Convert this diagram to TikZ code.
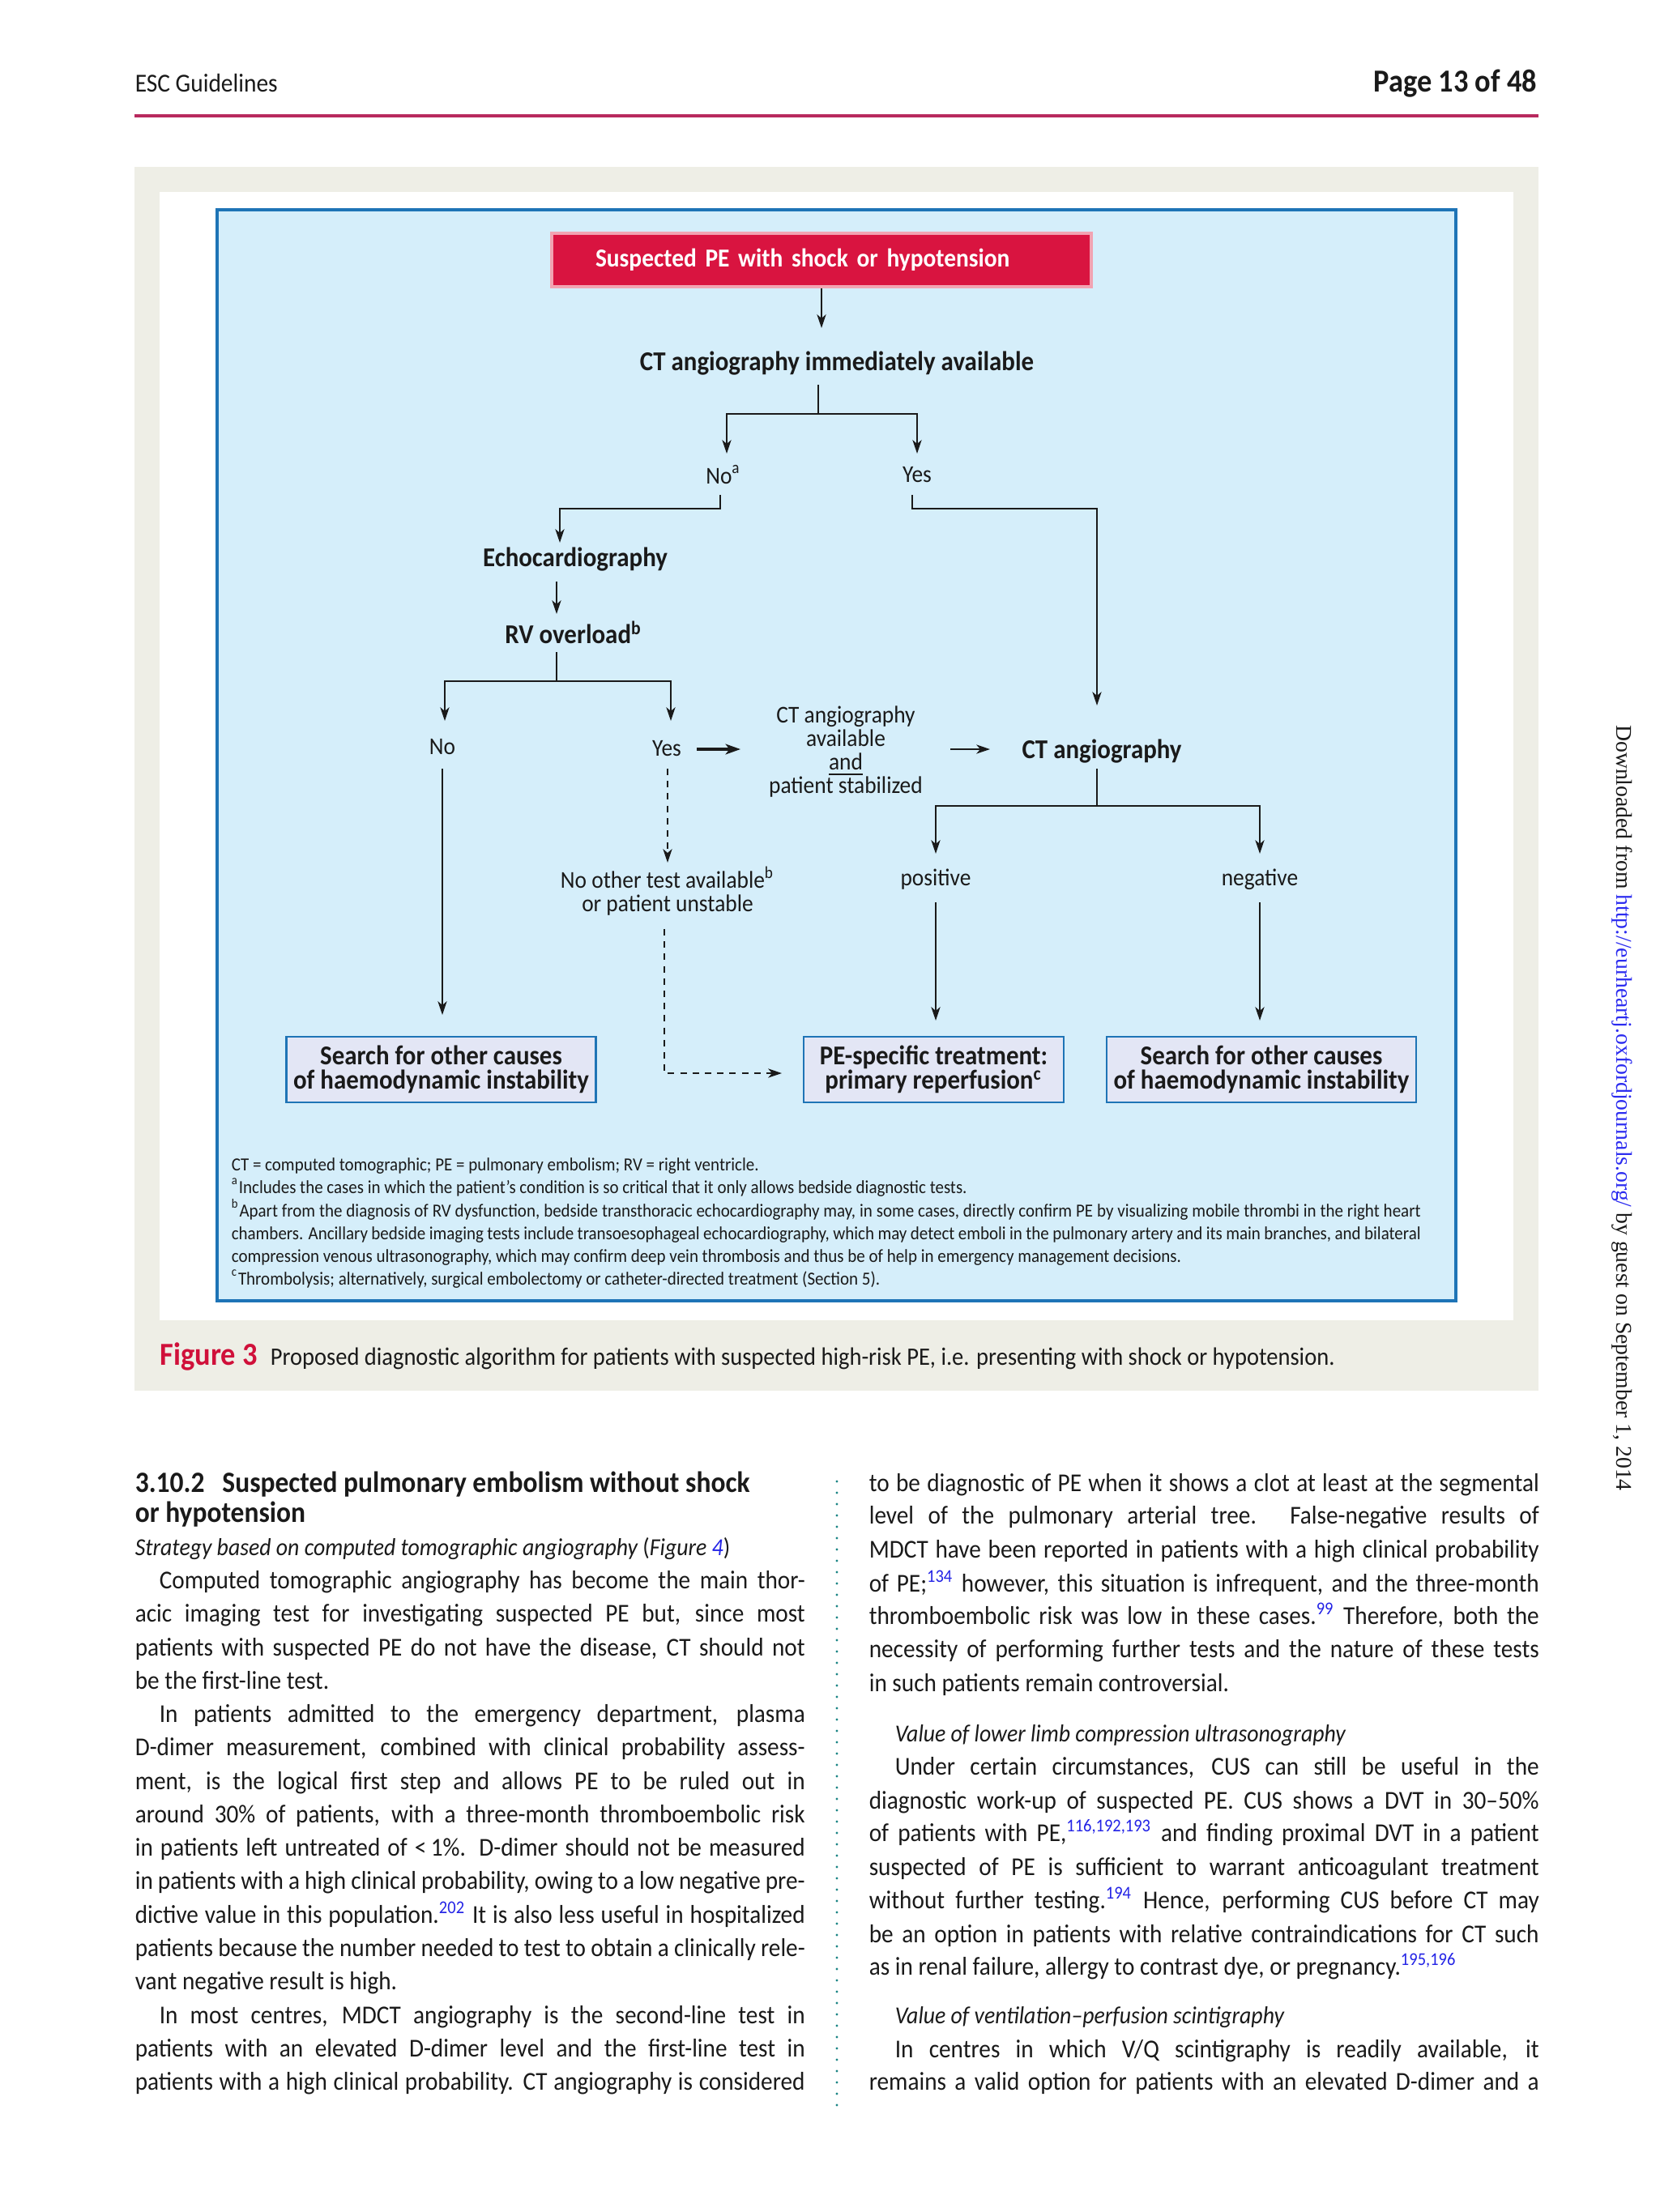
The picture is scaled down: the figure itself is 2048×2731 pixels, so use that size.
\documentclass[tikz,border=0pt]{standalone}
\usepackage{fontspec}
\setmainfont{Carlito}[FakeStretch=0.92]
\newfontfamily\serifrm{Liberation Serif}
\usepackage{graphicx}
\usetikzlibrary{arrows.meta}
\definecolor{panelgray}{HTML}{EEEEE6}
\definecolor{boxblue}{HTML}{1E74B6}
\definecolor{lightblue}{HTML}{D5EEFA}
\definecolor{redfill}{HTML}{D91440}
\definecolor{redborder}{HTML}{F2A3B2}
\definecolor{lav}{HTML}{E3E6F5}
\definecolor{rulered}{HTML}{B8295E}
\definecolor{figred}{HTML}{D0103A}
\definecolor{refblue}{HTML}{2424E6}
\definecolor{urlblue}{HTML}{2B2BF0}
\definecolor{septeal}{HTML}{1B8585}
\definecolor{ink}{HTML}{1A1A1A}
\newsavebox\jbox
\newlength\jwd
\newcommand\jline[2]{\sbox\jbox{#2}\jwd=\wd\jbox\ifdim\jwd>#1\relax\pgfmathsetmacro\jratio{(#1)/(\jwd)}\scalebox{\jratio}[1]{\usebox\jbox}\else\makebox[#1][s]{#2}\fi}
\newcommand\bodyfont{\fontsize{7.95}{10}\selectfont}
\newcommand\rf[1]{\textsuperscript{\color{refblue}#1}}
\tikzset{
  ln/.style={line width=0.55pt, draw=ink},
  arr/.style={ln, -{Stealth[length=4.2pt,width=2.8pt,inset=1.2pt]}},
  darr/.style={arr, dash pattern=on 2pt off 1.8pt},
  lbl/.style={font=\fontsize{7.45}{7.25}\selectfont, text=ink, inner sep=0pt, align=center},
  blbl/.style={font=\fontsize{8.4}{9}\selectfont\bfseries, text=ink, inner sep=0pt, align=center},
  redbox/.style={draw=redborder, line width=0.8pt, fill=redfill, text=white, font=\fontsize{8}{9}\selectfont\bfseries, minimum height=16.5pt, inner xsep=13.5pt, inner ysep=0pt, text width=139.5pt, align=left},
  outbox/.style={draw=boxblue, line width=0.7pt, fill=lav, text=ink, minimum height=20.25pt, align=center, inner sep=0pt, font=\fontsize{8.4}{7.5}\selectfont\bfseries},
  bodyl/.style={anchor=base west, inner sep=0pt, text=ink, font=\bodyfont},
  headl/.style={anchor=base west, inner sep=0pt, text=ink, font=\fontsize{9.1}{10}\selectfont\bfseries},
  footl/.style={anchor=base west, inner sep=0pt, text=ink, font=\fontsize{5.7}{7}\selectfont},
}
\begin{document}
\begin{tikzpicture}[x=0.25pt,y=-0.25pt]
\useasboundingbox (0,0) rectangle (2048,2731);
\fill[white] (0,0) rectangle (2048,2731);
% header
\node[anchor=base west, inner sep=0pt, text=ink, font=\fontsize{8}{9}\selectfont] (hdl) at (166,113) {ESC Guidelines};
\node[anchor=base east, inner sep=0pt, text=ink, font=\fontsize{9.9}{11}\selectfont\bfseries] (hdr) at (1898,113) {Page 13 of 48};
\draw[rulered, line width=1pt] (166,143) -- (1899,143);
% panels
\fill[panelgray] (166,206) rectangle (1899,1717);
\fill[white] (197,237) rectangle (1868,1630);
\draw[boxblue, line width=1pt, fill=lightblue] (268,259) rectangle (1797,1606);
% flowchart nodes
\node[redbox] (start) at (1014,321) {Suspected PE with shock or hypotension};
\node[blbl] (ctimm) at (1033,449) {CT angiography immediately available};
\node[lbl] (no1) at (893,586) {No\textsuperscript{a}};
\node[lbl] (yes1) at (1132,586) {Yes};
\node[blbl] (echo) at (710,691) {Echocardiography};
\node[blbl] (rv) at (708,781) {RV overload\textsuperscript{b}};
\node[lbl] (no2) at (546,922) {No};
\node[lbl] (yes2) at (823,924) {Yes};
\node[lbl] (cond) at (1044,928) {CT angiography\\available\\\underline{and}\\patient stabilized};
\node[blbl] (cta) at (1360,928) {CT angiography};
\node[lbl] (pos) at (1155,1086) {positive};
\node[lbl] (neg) at (1555,1086) {negative};
\node[lbl] (notest) at (824,1100) {No other test available\textsuperscript{b}\\or patient unstable};
\node[outbox, minimum width=95.5pt] (box1) at (544.5,1320.5) {Search for other causes\\of haemodynamic instability};
\node[outbox, minimum width=80.25pt] (box2) at (1152.5,1320.5) {PE-specific treatment:\\primary reperfusion\textsuperscript{c}};
\node[outbox, minimum width=95.5pt] (box3) at (1557,1320.5) {Search for other causes\\of haemodynamic instability};
% connector points
\coordinate (ctin) at (1014,405);
\coordinate (ctout) at (1010,475);
\coordinate (sp1) at (1010,511);
\coordinate (noin) at (897,560);
\coordinate (yesin) at (1132,560);
\coordinate (noout) at (889,611);
\coordinate (yesout) at (1126,611);
\coordinate (echoin) at (691,670);
\coordinate (ctain) at (1354,871);
\coordinate (echoout) at (687,718);
\coordinate (rvin) at (687,758);
\coordinate (rvout) at (687,805);
\coordinate (sp2) at (687,841);
\coordinate (no2in) at (549,890);
\coordinate (yes2in) at (828,890);
\coordinate (yes2r) at (860,925);
\coordinate (condl) at (914,925);
\coordinate (condr) at (1173,925);
\coordinate (ctal) at (1222,925);
\coordinate (ctaout) at (1354,949);
\coordinate (sp3) at (1354,995);
\coordinate (posin) at (1155,1054);
\coordinate (negin) at (1555,1054);
\coordinate (posout) at (1155,1114);
\coordinate (box2in) at (1155,1260);
\coordinate (negout) at (1555,1114);
\coordinate (box3in) at (1555,1260);
\coordinate (no2out) at (546,949);
\coordinate (box1in) at (546,1253);
\coordinate (yes2d) at (824,949);
\coordinate (notestin) at (824,1065);
\coordinate (notestout) at (820,1147);
\coordinate (dcorner) at (820,1325);
\coordinate (box2l) at (965,1325);
% connectors
\draw[arr] (start) -- (ctin);
\draw[ln] (ctout) -- (sp1);
\draw[arr] (sp1) -| (noin);
\draw[arr] (sp1) -| (yesin);
\draw[arr] (noout) -- ++(0,17) -| (echoin);
\draw[arr] (yesout) -- ++(0,17) -| (ctain);
\draw[arr] (echoout) -- (rvin);
\draw[ln] (rvout) -- (sp2);
\draw[arr] (sp2) -| (no2in);
\draw[arr] (sp2) -| (yes2in);
\draw[ln, line width=0.8pt, -{Stealth[length=4.6pt,width=3.2pt,inset=1.2pt]}] (yes2r) -- (condl);
\draw[arr] (condr) -- (ctal);
\draw[ln] (ctaout) -- (sp3);
\draw[arr] (sp3) -| (posin);
\draw[arr] (sp3) -| (negin);
\draw[arr] (posout) -- (box2in);
\draw[arr] (negout) -- (box3in);
\draw[arr] (no2out) -- (box1in);
\draw[darr] (yes2d) -- (notestin);
\draw[darr] (notestout) -- (dcorner) -- (box2l);
% footnotes
\node[footl] (f1) at (285,1445) {CT = computed tomographic; PE = pulmonary embolism; RV = right ventricle.};
\node[footl] (f2) at (285,1473) {\textsuperscript{a}Includes the cases in which the patient’s condition is so critical that it only allows bedside diagnostic tests.};
\node[footl] (f3) at (285,1502) {\jline{367pt}{\textsuperscript{b}Apart from the diagnosis of RV dysfunction, bedside transthoracic echocardiography may, in some cases, directly confirm PE by visualizing mobile thrombi in the right heart}};
\node[footl] (f4) at (285,1530) {\jline{367pt}{chambers. Ancillary bedside imaging tests include transoesophageal echocardiography, which may detect emboli in the pulmonary artery and its main branches, and bilateral}};
\node[footl] (f5) at (285,1558) {compression venous ultrasonography, which may confirm deep vein thrombosis and thus be of help in emergency management decisions.};
\node[footl] (f6) at (285,1586) {\textsuperscript{c}Thrombolysis; alternatively, surgical embolectomy or catheter-directed treatment (Section 5).};
% caption
\node[anchor=base west, inner sep=0pt, text=ink, font=\fontsize{7.75}{10}\selectfont] (cap) at (197,1685) {{\fontsize{9.9}{10}\selectfont\bfseries\color{figred}Figure 3}\hspace{4pt}Proposed diagnostic algorithm for patients with suspected high-risk PE, i.e. presenting with shock or hypotension.};
% left column
\node[headl] (h1) at (166,1842) {3.10.2\hspace{0.6em}Suspected pulmonary embolism without shock};
\node[headl] (h2) at (166,1879) {or hypotension};
\node[bodyl, font=\fontsize{7.55}{10}\selectfont] (it1) at (166,1920) {\itshape Strategy based on computed tomographic angiography {\upshape(}Figure {\color{refblue}4}{\upshape)}};
\node[bodyl] (L1) at (196,1961) {\jline{199.25pt}{Computed tomographic angiography has become the main thor-}};
\node[bodyl] (L2) at (166,2002) {\jline{206.75pt}{acic imaging test for investigating suspected PE but, since most}};
\node[bodyl] (L3) at (166,2044) {\jline{206.75pt}{patients with suspected PE do not have the disease, CT should not}};
\node[bodyl] (L4) at (166,2085) {be the first-line test.};
\node[bodyl] (L5) at (196,2126) {\jline{199.25pt}{In patients admitted to the emergency department, plasma}};
\node[bodyl] (L6) at (166,2167) {\jline{206.75pt}{D-dimer measurement, combined with clinical probability assess-}};
\node[bodyl] (L7) at (166,2209) {\jline{206.75pt}{ment, is the logical first step and allows PE to be ruled out in}};
\node[bodyl] (L8) at (166,2250) {\jline{206.75pt}{around 30\% of patients, with a three-month thromboembolic risk}};
\node[bodyl] (L9) at (166,2291) {\jline{206.75pt}{in patients left untreated of <\,1\%. D-dimer should not be measured}};
\node[bodyl] (L10) at (166,2332) {\jline{206.75pt}{in patients with a high clinical probability, owing to a low negative pre-}};
\node[bodyl] (L11) at (166,2374) {\jline{206.75pt}{dictive value in this population.\rf{202} It is also less useful in hospitalized}};
\node[bodyl] (L12) at (166,2415) {\jline{206.75pt}{patients because the number needed to test to obtain a clinically rele-}};
\node[bodyl] (L13) at (166,2456) {vant negative result is high.};
\node[bodyl] (L14) at (196,2498) {\jline{199.25pt}{In most centres, MDCT angiography is the second-line test in}};
\node[bodyl] (L15) at (166,2539) {\jline{206.75pt}{patients with an elevated D-dimer level and the first-line test in}};
\node[bodyl] (L16) at (166,2580) {\jline{206.75pt}{patients with a high clinical probability. CT angiography is considered}};
% separator
\draw[septeal, line width=0.8pt, line cap=round, dash pattern=on 0pt off 3.5pt] (1033,1829) -- (1033,2600);
% right column
\node[bodyl] (R1) at (1072,1841) {\jline{206.75pt}{to be diagnostic of PE when it shows a clot at least at the segmental}};
\node[bodyl] (R2) at (1072,1881) {\jline{206.75pt}{level of the pulmonary arterial tree. False-negative results of}};
\node[bodyl] (R3) at (1072,1923) {\jline{206.75pt}{MDCT have been reported in patients with a high clinical probability}};
\node[bodyl] (R4) at (1072,1965) {\jline{206.75pt}{of PE;\rf{134} however, this situation is infrequent, and the three-month}};
\node[bodyl] (R5) at (1072,2005) {\jline{206.75pt}{thromboembolic risk was low in these cases.\rf{99} Therefore, both the}};
\node[bodyl] (R6) at (1072,2046) {\jline{206.75pt}{necessity of performing further tests and the nature of these tests}};
\node[bodyl] (R7) at (1072,2088) {in such patients remain controversial.};
\node[bodyl, font=\fontsize{7.55}{10}\selectfont] (R8) at (1104,2150) {\itshape Value of lower limb compression ultrasonography};
\node[bodyl] (R9) at (1104,2191) {\jline{198.75pt}{Under certain circumstances, CUS can still be useful in the}};
\node[bodyl] (R10) at (1072,2233) {\jline{206.75pt}{diagnostic work-up of suspected PE. CUS shows a DVT in 30--50\%}};
\node[bodyl] (R11) at (1072,2273) {\jline{206.75pt}{of patients with PE,\rf{116,192,193} and finding proximal DVT in a patient}};
\node[bodyl] (R12) at (1072,2315) {\jline{206.75pt}{suspected of PE is sufficient to warrant anticoagulant treatment}};
\node[bodyl] (R13) at (1072,2356) {\jline{206.75pt}{without further testing.\rf{194} Hence, performing CUS before CT may}};
\node[bodyl] (R14) at (1072,2398) {\jline{206.75pt}{be an option in patients with relative contraindications for CT such}};
\node[bodyl] (R15) at (1072,2438) {as in renal failure, allergy to contrast dye, or pregnancy.\rf{195,196}};
\node[bodyl, font=\fontsize{7.55}{10}\selectfont] (R16) at (1104,2498) {\itshape Value of ventilation--perfusion scintigraphy};
\node[bodyl] (R17) at (1104,2540) {\jline{198.75pt}{In centres in which V/Q scintigraphy is readily available, it}};
\node[bodyl] (R18) at (1072,2580) {\jline{206.75pt}{remains a valid option for patients with an elevated D-dimer and a}};
% side note
\node[rotate=-90, inner sep=0pt, text=ink, font=\serifrm\fontsize{6.93}{8}\selectfont] (dl) at (2002,1368) {Downloaded from {\color{urlblue}http://eurheartj.oxfordjournals.org/} by guest on September 1, 2014};
\end{tikzpicture}
\end{document}
